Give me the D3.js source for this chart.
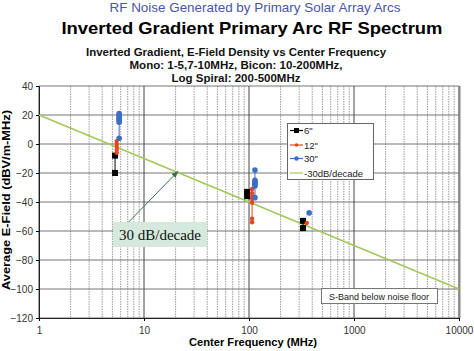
<!DOCTYPE html>
<html><head><meta charset="utf-8">
<script src="https://cdn.jsdelivr.net/npm/d3@7"></script>
<style>body{margin:0;background:#fff}svg{display:block}</style>
</head><body><svg id="c" width="474" height="351"></svg>
<script>
// ---- data ----
const xTicks = [1, 10, 100, 1000, 10000];
const yTicks = [40, 20, 0, -20, -40, -60, -80, -100, -120];
const seriesNames = ['6"', '12"', '30"'];
const seriesColors = ['#000000', '#e8461e', '#3d6fc6'];
// each series: groups of [frequency, values[]]
const s6 = [[5.3, [-8, -20]], [96, [-33, -36]], [327, [-53, -58]]];
const s12 = [[5.5, [2, 0, -2, -4, -6]], [107, [-31, -34, -36.5, -38, -40.5, -51.5, -54]], [355, [-54.5]]];
const s30 = [[5.8, [21, 20, 19, 18, 17, 16, 15, 4]], [114, [-18, -25, -26, -27, -28, -29, -37]], [374, [-47.5]]];
const trendStart = [1, 20];
const trendEnd = [10000, -100];
const trendName = '-30dB/decade';
const arrowTip = [21, -19];
const arrowTail = [7.1, -54];

const svg = d3.select('#c');
const x = d3.scaleLog().domain([1, 10000]).range([39, 459]);
const y = d3.scaleLinear().domain([-120, 40]).range([318, 86]);

// titles
svg.append('text').attr('x', 255).attr('y', 12).attr('text-anchor', 'middle')
  .attr('font-family', 'Liberation Sans, Arial').attr('font-size', 13).attr('fill', '#4a55a8')
  .attr('textLength', 291).attr('lengthAdjust', 'spacingAndGlyphs')
  .text('RF Noise Generated by Primary Solar Array Arcs');
svg.append('text').attr('x', 252).attr('y', 34).attr('text-anchor', 'middle')
  .attr('font-family', 'Liberation Sans, Arial').attr('font-weight', 'bold').attr('font-size', 16.5).attr('fill', '#000')
  .attr('textLength', 381).attr('lengthAdjust', 'spacingAndGlyphs')
  .text('Inverted Gradient Primary Arc RF Spectrum');
const sub = [['Inverted Gradient, E-Field Density vs Center Frequency', 56, 300],
             ['Mono: 1-5,7-10MHz, Bicon: 10-200MHz,', 69, 213],
             ['Log Spiral: 200-500MHz', 82, 129]];
sub.forEach(s => svg.append('text').attr('x', 236).attr('y', s[1]).attr('text-anchor', 'middle')
  .attr('font-family', 'Liberation Sans, Arial').attr('font-weight', 'bold').attr('font-size', 11).attr('fill', '#111')
  .attr('textLength', s[2]).attr('lengthAdjust', 'spacingAndGlyphs').text(s[0]));

// grid
const g = svg.append('g');
const minor = [];
for (let d = 1; d < 10000; d *= 10) for (let k = 2; k <= 9; k++) minor.push(d * k);
g.selectAll('.mn').data(minor).enter().append('line')
  .attr('x1', d => x(d)).attr('x2', d => x(d)).attr('y1', y(40)).attr('y2', y(-120))
  .attr('stroke', '#9a9a9a').attr('stroke-width', 1).attr('stroke-dasharray', '1.5,1');
g.selectAll('.hy').data(yTicks).enter().append('line')
  .attr('x1', x(1)).attr('x2', x(10000)).attr('y1', d => y(d)).attr('y2', d => y(d))
  .attr('stroke', '#777').attr('stroke-width', 1);
g.selectAll('.mj').data(xTicks).enter().append('line')
  .attr('x1', d => x(d)).attr('x2', d => x(d)).attr('y1', y(40)).attr('y2', y(-120))
  .attr('stroke', '#444').attr('stroke-width', 1);
g.append('line').attr('x1', x(10000) + 0.5).attr('x2', x(10000) + 0.5).attr('y1', y(40)).attr('y2', y(-120))
  .attr('stroke', '#888').attr('stroke-width', 2);

// axes
const xa = svg.append('g').attr('transform', `translate(0,${y(-120)})`)
  .call(d3.axisBottom(x).tickValues(xTicks).tickFormat(d3.format('d')).tickSize(3));
xa.select('.domain').attr('stroke', '#222');
xa.selectAll('text').attr('font-family', 'Liberation Sans, Arial').attr('font-size', 10).attr('fill', '#333').attr('dy', '0.95em');
const ya = svg.append('g').attr('transform', `translate(${x(1)},0)`)
  .call(d3.axisLeft(y).tickValues(yTicks).tickSize(3));
ya.select('.domain').attr('stroke', '#222');
ya.selectAll('text').attr('font-family', 'Liberation Sans, Arial').attr('font-size', 10).attr('fill', '#333');

svg.append('text').attr('x', 253).attr('y', 346).attr('text-anchor', 'middle')
  .attr('font-family', 'Liberation Sans, Arial').attr('font-weight', 'bold').attr('font-size', 11)
  .attr('textLength', 128).attr('lengthAdjust', 'spacingAndGlyphs').text('Center Frequency (MHz)');
svg.append('text').attr('transform', 'translate(10,200) rotate(-90)').attr('text-anchor', 'middle')
  .attr('font-family', 'Liberation Sans, Arial').attr('font-weight', 'bold').attr('font-size', 10)
  .attr('textLength', 180).attr('lengthAdjust', 'spacingAndGlyphs').text('Average E-Field (dBV/m-MHz)');

// trend line
svg.append('line').attr('x1', x(trendStart[0])).attr('y1', y(trendStart[1]))
  .attr('x2', x(trendEnd[0])).attr('y2', y(trendEnd[1]))
  .attr('stroke', '#a2c85a').attr('stroke-width', 1.5);

// series
const all = [s6, s12, s30];
all.forEach((s, i) => {
  const col = seriesColors[i];
  const sg = svg.append('g');
  s.forEach(([f, vals]) => {
    if (vals.length > 1) sg.append('line').attr('x1', x(f)).attr('x2', x(f))
      .attr('y1', y(d3.max(vals))).attr('y2', y(d3.min(vals))).attr('stroke', col).attr('stroke-width', 1);
    vals.forEach(v => {
      if (i === 0) sg.append('rect').attr('x', x(f) - 3).attr('y', y(v) - 3).attr('width', 6).attr('height', 6).attr('fill', col);
      else sg.append('circle').attr('cx', x(f)).attr('cy', y(v)).attr('r', i === 1 ? 2.2 : 2.8).attr('fill', col);
    });
  });
});

// legend
const lg = svg.append('g');
lg.append('rect').attr('x', 287.5).attr('y', 123.5).attr('width', 86).attr('height', 56)
  .attr('fill', '#fff').attr('stroke', '#666').attr('stroke-width', 1);
const items = seriesNames.concat([trendName]);
const itemCols = seriesColors.concat(['#a2c85a']);
const itemY = [130.5, 145, 158.5, 173];
items.forEach((n, i) => {
  const yy = itemY[i];
  lg.append('line').attr('x1', 290).attr('x2', 303).attr('y1', yy).attr('y2', yy).attr('stroke', itemCols[i]).attr('stroke-width', 1.2);
  if (i === 0) lg.append('rect').attr('x', 294).attr('y', yy - 2.5).attr('width', 5).attr('height', 5).attr('fill', itemCols[i]);
  else if (i < 3) lg.append('circle').attr('cx', 296.5).attr('cy', yy).attr('r', i === 1 ? 1.8 : 2.3).attr('fill', itemCols[i]);
  lg.append('text').attr('x', 304).attr('y', yy + 3.5).attr('font-family', 'Liberation Sans, Arial')
    .attr('font-size', 9.5).attr('fill', '#222').text(n);
});

// annotation box
svg.append('defs').append('marker').attr('id', 'ah').attr('viewBox', '0 0 10 10').attr('refX', 9).attr('refY', 5)
  .attr('markerWidth', 7).attr('markerHeight', 7).attr('orient', 'auto')
  .append('path').attr('d', 'M0,1 L10,5 L0,9 Z').attr('fill', '#3c6e50');
svg.append('line').attr('x1', x(arrowTail[0])).attr('y1', y(arrowTail[1]))
  .attr('x2', x(arrowTip[0])).attr('y2', y(arrowTip[1]))
  .attr('stroke', '#3c6e50').attr('stroke-width', 1).attr('marker-end', 'url(#ah)');
svg.append('rect').attr('x', 113).attr('y', 222).attr('width', 94).attr('height', 25).attr('fill', '#d5eadd');
svg.append('text').attr('x', 160).attr('y', 240).attr('text-anchor', 'middle')
  .attr('font-family', 'Liberation Serif, Times New Roman').attr('font-size', 15).attr('fill', '#111')
  .text('30 dB/decade');

svg.append('rect').attr('x', 321.5).attr('y', 288.5).attr('width', 116).attr('height', 15)
  .attr('fill', '#fff').attr('stroke', '#777');
svg.append('text').attr('x', 379).attr('y', 299.5).attr('text-anchor', 'middle')
  .attr('font-family', 'Liberation Sans, Arial').attr('font-size', 9).attr('fill', '#222')
  .text('S-Band below noise floor');
</script></body></html>
